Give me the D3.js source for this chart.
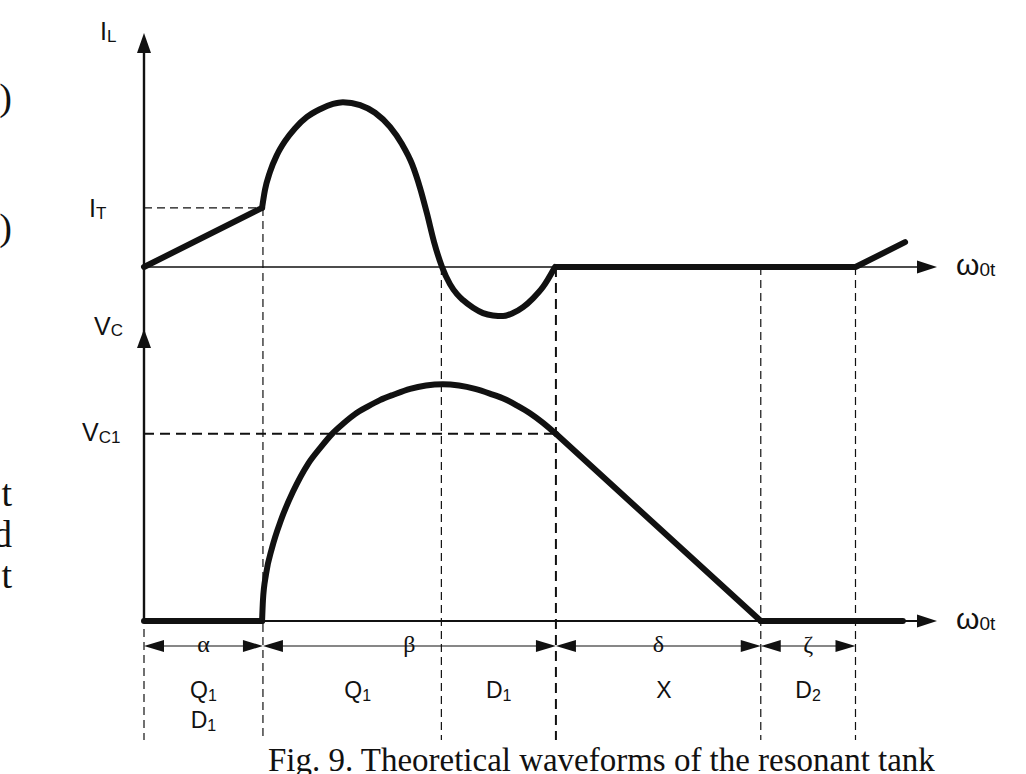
<!DOCTYPE html>
<html>
<head>
<meta charset="utf-8">
<script src="https://cdn.jsdelivr.net/npm/d3@7"></script>
<style>
  html, body { margin: 0; padding: 0; background: #fff; }
  svg { display: block; }
  .sans { font-family: "Liberation Sans", Arial, sans-serif; }
  .serif { font-family: "Liberation Serif", "Times New Roman", serif; }
</style>
</head>
<body>
<svg id="chart" width="1026" height="774"></svg>
<script>
// ---------------- data ----------------
// x in electrical degrees of ω0t (0..360 spans the axis)
const intervalBounds = [0, 54, 135, 187, 280, 323];
const intervalNames = ["α", "β", "δ", "ζ"];
const intervalSpans = [[0, 54], [54, 187], [187, 280], [280, 323]];
const stateLabels = [
  { x: 27,    lines: [["Q", "1"], ["D", "1"]] },
  { x: 97,    lines: [["Q", "1"]] },
  { x: 161,   lines: [["D", "1"]] },
  { x: 236,   lines: [["X", ""]] },
  { x: 301.5, lines: [["D", "2"]] }
];

// Inductor current I_L (units of I_T)
const ilRamp = [[0, 0], [53.6, 1]];
const ilResonant = [
  [53.6, 1.0], [54.9, 1.30], [57.2, 1.61], [60.4, 1.90], [64.0, 2.13],
  [68.6, 2.35], [74.0, 2.54], [79.9, 2.67], [85.8, 2.76], [90.3, 2.79],
  [98.1, 2.74], [104.9, 2.61], [111.7, 2.37], [117.1, 2.08], [121.7, 1.74],
  [125.3, 1.34], [128.5, 0.90], [131.7, 0.42], [135.3, 0], [138.9, -0.29],
  [142.1, -0.46], [144.8, -0.56], [149.4, -0.69], [153.9, -0.78],
  [158.4, -0.82], [163.0, -0.83], [167.5, -0.78], [172.1, -0.68],
  [176.6, -0.53], [181.1, -0.34], [186.6, 0]
];
const ilIdle = [[186.6, 0], [323, 0]];
const ilNext = [[323, 0], [345.5, 0.42]];

// Capacitor voltage V_C (units of V_C1)
const vcIdle1 = [[0, 0], [53.6, 0]];
const vcResonant = [
  [53.6, 0], [54.0, 0.11], [55.4, 0.25], [58.1, 0.39], [62.2, 0.54],
  [67.6, 0.69], [74.5, 0.84], [80.0, 0.925], [85.4, 1.0], [90.5, 1.055],
  [95.8, 1.105], [101.5, 1.145], [107.1, 1.18], [113.5, 1.21],
  [120.8, 1.24], [128.0, 1.258], [135.7, 1.265], [143.0, 1.258],
  [150.3, 1.24], [157.0, 1.215], [163.9, 1.185], [169.5, 1.15],
  [175.2, 1.11], [181.0, 1.06], [187.0, 1.0]
];
const vcRamp = [[187.0, 1.0], [280, 0]];
const vcIdle2 = [[280, 0], [344.5, 0]];

const IT = 1, VC1 = 1;

// ---------------- scales ----------------
const svg = d3.select("#chart");
const x = d3.scaleLinear().domain([0, 360]).range([144, 937]);
const yIL = d3.scaleLinear().domain([0, 3.96]).range([267, 33]);
const yVC = d3.scaleLinear().domain([0, 1.56]).range([621, 329]);

const dimY = 646, dashBottom = 740;

// ---------------- dashed guides ----------------
const guide = (x1, y1, x2, y2, heavy) =>
  svg.append("line").attr("x1", x1).attr("y1", y1).attr("x2", x2).attr("y2", y2)
    .attr("stroke", "#111").attr("stroke-width", heavy ? 2 : 1.2)
    .attr("stroke-dasharray", heavy ? "10,6" : "8,5");

guide(x(0), yVC(0) + 8, x(0), dashBottom, false);
guide(x(intervalBounds[1]), yIL(IT), x(intervalBounds[1]), dashBottom, false);
guide(x(intervalBounds[2]), yIL(0), x(intervalBounds[2]), dashBottom, false);
guide(x(intervalBounds[3]), yIL(0), x(intervalBounds[3]), dashBottom, true);
guide(x(intervalBounds[4]), yIL(0), x(intervalBounds[4]), dashBottom, false);
guide(x(intervalBounds[5]), yIL(0), x(intervalBounds[5]), dashBottom, false);
guide(x(0), yIL(IT), x(intervalBounds[1]), yIL(IT), false);
guide(x(0), yVC(VC1), x(intervalBounds[3]), yVC(VC1), true);

// ---------------- axes ----------------
const tri = (pts) => svg.append("path")
  .attr("d", "M" + pts.map(p => p.join(",")).join("L") + "Z").attr("fill", "#111");

// vertical axis (shared)
svg.append("line").attr("x1", x(0)).attr("x2", x(0))
  .attr("y1", yIL(3.96) + 10).attr("y2", yVC(0))
  .attr("stroke", "#111").attr("stroke-width", 2.4);
tri([[x(0), yIL(3.96)], [x(0) - 7, yIL(3.96) + 20], [x(0) + 7, yIL(3.96) + 20]]);
tri([[x(0), yVC(1.56)], [x(0) - 7, yVC(1.56) + 19], [x(0) + 7, yVC(1.56) + 19]]);

// horizontal axes
svg.append("line").attr("x1", x(0)).attr("x2", x(360) - 10)
  .attr("y1", yIL(0)).attr("y2", yIL(0)).attr("stroke", "#111").attr("stroke-width", 1.3);
tri([[x(360), yIL(0)], [x(360) - 20, yIL(0) - 6.5], [x(360) - 20, yIL(0) + 6.5]]);
svg.append("line").attr("x1", x(0)).attr("x2", x(360) - 10)
  .attr("y1", yVC(0)).attr("y2", yVC(0)).attr("stroke", "#111").attr("stroke-width", 2);
tri([[x(360), yVC(0)], [x(360) - 20, yVC(0) - 6.5], [x(360) - 20, yVC(0) + 6.5]]);

// ---------------- waveforms ----------------
const lineIL = d3.line().x(d => x(d[0])).y(d => yIL(d[1]));
const lineVC = d3.line().x(d => x(d[0])).y(d => yVC(d[1]));
const curveIL = d3.line().x(d => x(d[0])).y(d => yIL(d[1])).curve(d3.curveMonotoneX);
const curveVC = d3.line().x(d => x(d[0])).y(d => yVC(d[1])).curve(d3.curveMonotoneX);

const wave = (gen, data) => svg.append("path").attr("d", gen(data))
  .attr("fill", "none").attr("stroke", "#111").attr("stroke-width", 6)
  .attr("stroke-linecap", "round").attr("stroke-linejoin", "round");

wave(lineIL, ilRamp);
wave(curveIL, ilResonant);
svg.append("path").attr("d", lineIL(ilIdle)).attr("fill", "none")
  .attr("stroke", "#111").attr("stroke-width", 6);
wave(lineIL, ilNext);

svg.append("path").attr("d", lineVC(vcIdle1)).attr("fill", "none")
  .attr("stroke", "#111").attr("stroke-width", 6).attr("stroke-linecap", "round");
wave(curveVC, vcResonant);
wave(lineVC, vcRamp);
svg.append("path").attr("d", lineVC(vcIdle2)).attr("fill", "none")
  .attr("stroke", "#111").attr("stroke-width", 6).attr("stroke-linecap", "round");

// ---------------- dimension arrows ----------------
intervalSpans.forEach((s, i) => {
  const a = x(s[0]), b = x(s[1]);
  svg.append("line").attr("x1", a + 10).attr("x2", b - 10).attr("y1", dimY).attr("y2", dimY)
    .attr("stroke", "#111").attr("stroke-width", 1.2);
  tri([[a, dimY], [a + 20, dimY - 6], [a + 20, dimY + 6]]);
  tri([[b, dimY], [b - 20, dimY - 6], [b - 20, dimY + 6]]);
  svg.append("text").attr("class", "serif")
    .attr("x", (a + b) / 2).attr("y", dimY + 6).attr("text-anchor", "middle")
    .attr("font-size", 24).attr("fill", "#111").text(intervalNames[i]);
});

// ---------------- labels ----------------
function subLabel(tx, ty, main, sub, anchor, mainSize, subSize, subDy) {
  const t = svg.append("text").attr("class", "sans").attr("x", tx).attr("y", ty)
    .attr("text-anchor", anchor).attr("fill", "#111").attr("font-size", mainSize);
  t.append("tspan").text(main);
  if (sub) t.append("tspan").attr("font-size", subSize).attr("dy", subDy).text(sub);
  return t;
}

stateLabels.forEach(s => {
  s.lines.forEach((ln, j) => {
    subLabel(x(s.x), 698 + j * 30, ln[0], ln[1], "middle", 23, 16, 3);
  });
});

subLabel(100, 40, "I", "L", "start", 25, 17, 2);
subLabel(89, 217, "I", "T", "start", 25, 17, 2);
subLabel(94, 335, "V", "C", "start", 25, 17, 1);
subLabel(82, 441, "V", "C1", "start", 25, 17, 2);
subLabel(956, yIL(0) + 8, "ω", "0t", "start", 30, 19, 1);
subLabel(956, yVC(0) + 8, "ω", "0t", "start", 30, 19, 1);

// caption
const cap = svg.append("text").attr("class", "serif").attr("x", 268).attr("y", 771)
  .attr("font-size", 33).attr("fill", "#111")
  .text("Fig. 9. Theoretical waveforms of the resonant tank");
const w = cap.node().getComputedTextLength();
if (w > 0) cap.attr("font-size", 33 * 667 / w);

// fragments of the neighbouring text column
const frag = (ty, s) => svg.append("text").attr("class", "serif")
  .attr("x", 12).attr("y", ty).attr("text-anchor", "end")
  .attr("font-size", 38).attr("fill", "#111").text(s);
frag(110, ")");
frag(240, ")");
frag(506, "t");
frag(547, "d");
frag(588, "t");
</script>
</body>
</html>
